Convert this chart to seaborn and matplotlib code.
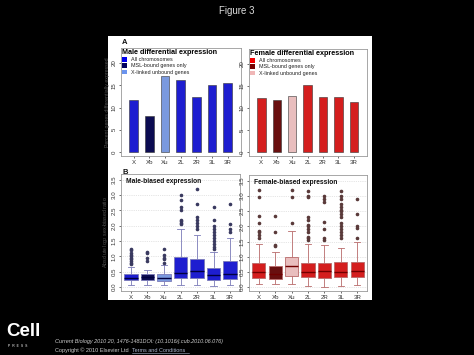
import numpy as np
import pandas as pd
import matplotlib
matplotlib.use("Agg")
import matplotlib.pyplot as plt
from matplotlib.patches import Rectangle, Patch
import seaborn as sns

categories = ["X", "Xb", "Xu", "2L", "2R", "3L", "3R"]

male_pct = [11.6, 8.0, 17.0, 16.1, 12.4, 15.1, 15.6]
female_pct = [12.3, 11.9, 12.7, 15.3, 12.6, 12.6, 11.4]

male_colors = ["#0000EE", "#00005E", "#6A93EE", "#0000EE", "#0000EE", "#0000EE", "#0000EE"]
female_colors = ["#F20000", "#780000", "#F0B7B7", "#F20000", "#F20000", "#F20000", "#F20000"]

# box summaries (lower whisker, Q1, median, Q3, upper whisker)
male_wlo = [0.05, 0.05, 0.05, 0.08, 0.05, 0.03, 0.05]
male_q1 = [0.22, 0.22, 0.20, 0.30, 0.30, 0.22, 0.25]
male_med = [0.30, 0.32, 0.28, 0.45, 0.52, 0.38, 0.42]
male_q3 = [0.42, 0.42, 0.42, 0.98, 0.92, 0.62, 0.85]
male_whi = [0.65, 0.55, 0.72, 1.90, 1.70, 1.15, 1.60]
male_out = [
    [0.75, 0.8, 0.85, 0.9, 0.95, 1.0, 1.05, 1.1, 1.2, 1.25],
    [0.85, 0.95, 1.1, 1.15],
    [0.8, 0.9, 0.95, 1.05, 1.25],
    [2.05, 2.1, 2.15, 2.2, 2.5, 2.6, 2.85, 3.0],
    [1.9, 2.0, 2.1, 2.2, 2.3, 2.7, 3.2],
    [1.25, 1.3, 1.4, 1.5, 1.6, 1.7, 1.8, 1.9, 2.0, 2.2, 2.6],
    [1.8, 1.9, 2.05, 2.7],
]

female_wlo = [0.10, 0.10, 0.10, 0.05, 0.00, 0.05, 0.08]
female_q1 = [0.30, 0.28, 0.38, 0.32, 0.30, 0.32, 0.32]
female_med = [0.50, 0.42, 0.68, 0.50, 0.52, 0.50, 0.52]
female_q3 = [0.78, 0.68, 1.00, 0.80, 0.78, 0.82, 0.82]
female_whi = [1.42, 1.15, 1.85, 1.42, 1.38, 1.30, 1.50]
female_out = [
    [1.6, 1.7, 1.8, 1.85, 2.1, 2.35, 2.95, 3.2],
    [1.35, 1.4, 1.8, 2.35],
    [2.1, 2.95, 3.2],
    [1.55, 1.6, 1.65, 1.8, 1.9, 2.0, 2.05, 2.2, 2.3, 2.95, 3.0, 3.15],
    [1.55, 1.6, 1.9, 2.15, 2.8, 2.9, 3.0],
    [1.6, 1.7, 1.8, 1.9, 2.0, 2.1, 2.3, 2.4, 2.5, 2.55, 2.65, 2.75, 2.9, 3.0, 3.15],
    [1.6, 1.95, 2.0, 2.4, 2.9],
]

legend_labels = ["All chromosomes", "MSL-bound genes only", "X-linked unbound genes"]


def box_frame(wlo, q1, med, q3, whi, outs):
    rows = []
    for c, a, b, m, d, e, o in zip(categories, wlo, q1, med, q3, whi, outs):
        k = len(o)
        n = k + 2
        vals = [a] * (k + 1) + [b] * n + [m] + [d] * n + [e] + list(o)
        rows += [(c, v) for v in vals]
    return pd.DataFrame(rows, columns=["chrom", "value"])


plt.rcParams["font.family"] = ["Liberation Sans", "DejaVu Sans"]

W, H = 474, 355
fig = plt.figure(figsize=(W / 100, H / 100), dpi=100, facecolor="black")


def rect(x0, y0, x1, y1):
    return [x0 / W, 1 - y1 / H, (x1 - x0) / W, (y1 - y0) / H]


fig.patches.append(Rectangle((108 / W, 1 - 300 / H), 264 / W, 264 / H,
                             transform=fig.transFigure, facecolor="white",
                             edgecolor="none", zorder=-10))

fig.text(0.5, 1 - 11 / H, "Figure 3", color="#dddddd", fontsize=7, ha="center", va="center")

tick_color = "#333333"


def style_axes(ax):
    ax.set_facecolor("white")
    for s in ax.spines.values():
        s.set_color("#999999")
        s.set_linewidth(0.6)
    ax.tick_params(axis="both", labelsize=4.4, colors=tick_color, length=1.5, width=0.5, pad=1.5)
    for lab in ax.get_yticklabels():
        lab.set_rotation(90)
        lab.set_va("center")
    ax.set_xlabel("")


def bar_panel(ax, vals, colors, title):
    df = pd.DataFrame({"chrom": categories, "pct": vals})
    sns.barplot(data=df, x="chrom", y="pct", hue="chrom", palette=dict(zip(categories, colors)),
                legend=False, width=0.55, edgecolor="#333333", linewidth=0.4, ax=ax)
    ax.set_ylim(-0.9, 23.4)
    ax.set_xlim(-0.8, 6.85)
    ax.set_yticks([0, 5, 10, 15, 20])
    ax.set_ylabel("")
    handles = [Patch(facecolor=colors[0], edgecolor="none"),
               Patch(facecolor=colors[1], edgecolor="none"),
               Patch(facecolor=colors[2], edgecolor="none")]
    leg = ax.legend(handles, legend_labels, title=title, loc="upper left", frameon=False,
                    fontsize=3.9, title_fontproperties={"weight": "bold", "size": 5.2},
                    alignment="left", handlelength=0.9, handleheight=0.9, handletextpad=0.8,
                    labelspacing=0.2, borderaxespad=0.1, borderpad=0.1)
    for t in leg.get_texts():
        t.set_color("#222222")
    style_axes(ax)


def box_panel(ax, df, colors, title, flier_c, whisk_c, med_c):
    sns.boxplot(data=df, x="chrom", y="value", hue="chrom", palette=dict(zip(categories, colors)),
                legend=False, width=0.8, linewidth=0.6, ax=ax,
                flierprops=dict(marker="o", markersize=1.6, markerfacecolor=flier_c,
                                markeredgecolor=flier_c),
                whiskerprops=dict(color=whisk_c, linestyle="-"),
                capprops=dict(color=whisk_c),
                boxprops=dict(edgecolor=whisk_c),
                medianprops=dict(color=med_c, linewidth=1.0))
    ax.set_ylim(-0.13, 3.69)
    ax.set_xlim(-0.6, 6.6)
    ax.set_yticks(np.arange(0, 3.51, 0.5))
    ax.set_yticklabels([f"{v:.1f}" for v in np.arange(0, 3.51, 0.5)])
    ax.set_ylabel("")
    ax.grid(axis="y", color="#cccccc", linestyle=":", linewidth=0.5)
    ax.set_axisbelow(True)
    ax.text(0.04, 0.965, title, transform=ax.transAxes, fontsize=4.8, fontweight="bold",
            va="top", ha="left", color="#111111")
    style_axes(ax)


ax1 = fig.add_axes(rect(121, 48, 241, 156))
bar_panel(ax1, male_pct, male_colors, "Male differential expression")
ax1.set_ylabel("Percent genes differentially expressed", fontsize=3.8, color="#555555", labelpad=1)

ax2 = fig.add_axes(rect(249, 49, 367, 156))
bar_panel(ax2, female_pct, female_colors, "Female differential expression")

ax3 = fig.add_axes(rect(121, 174, 240, 291))
box_panel(ax3, box_frame(male_wlo, male_q1, male_med, male_q3, male_whi, male_out),
          male_colors, "Male-biased expression", "#3a3a60", "#7a7ab8", "#000040")
ax3.set_ylabel("Absolute log$_2$ sex-biased ratio", fontsize=3.8, color="#555555", labelpad=1)

ax4 = fig.add_axes(rect(249, 175, 367, 291))
box_panel(ax4, box_frame(female_wlo, female_q1, female_med, female_q3, female_whi, female_out),
          female_colors, "Female-biased expression", "#5a3a3a", "#b86a6a", "#700000")

fig.text(122 / W, 1 - 43 / H, "A", fontsize=5.5, fontweight="bold", color="#111111", va="center")
fig.text(122 / W, 1 - 172 / H, "B", fontsize=5.5, fontweight="bold", color="#111111", va="center")

# footer
fig.text(6 / W, 1 - 332 / H, "Cell", fontsize=13.5, fontweight="bold", color="white", va="center",
         ha="left")
fig.text(8 / W, 1 - 346 / H, "P  R  E  S  S", fontsize=2.4, color="white", va="center", ha="left")
fig.text(55 / W, 1 - 341 / H, "Current Biology 2010 20, 1476-1481DOI: (10.1016/j.cub.2010.06.076)",
         fontsize=4.0, color="#cccccc", style="italic", va="center", ha="left")
fig.text(55 / W, 1 - 350 / H, "Copyright \u00a9 2010 Elsevier Ltd", fontsize=4.0, color="#cccccc",
         va="center", ha="left")
fig.text(132 / W, 1 - 350 / H, "Terms and Conditions", fontsize=4.0, color="#aab4cc",
         va="center", ha="left")
fig.lines.append(plt.Line2D([132 / W, 189 / W], [1 - 352.5 / H, 1 - 352.5 / H],
                            transform=fig.transFigure, color="#aab4cc", linewidth=0.4))

fig.savefig("out.png", dpi=100, facecolor="black")
